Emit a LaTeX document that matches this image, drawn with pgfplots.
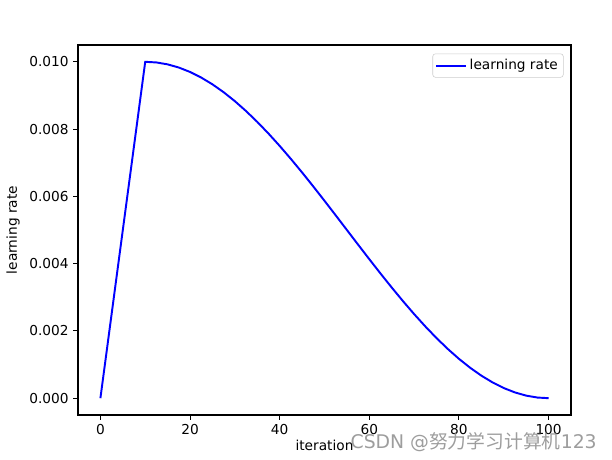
\documentclass[border=0pt]{standalone}
\usepackage{fontspec}
\setmainfont{DejaVu Sans}
\newfontfamily\cjk{Noto Sans CJK SC}
\usepackage{pgfplots}
\pgfplotsset{compat=1.18}
\begin{document}
\begin{tikzpicture}
\path[use as bounding box] (-0.78in,-0.45in) rectangle (5.34in,4.15in);
\begin{axis}[
  at={(0,0)}, anchor=south west,
  scale only axis,
  width=4.93in, height=3.70in,
  xmin=-5, xmax=105,
  ymin=-0.0005, ymax=0.0105,
  xtick={0,20,40,60,80,100},
  ytick={0,0.002,0.004,0.006,0.008,0.010},
  scaled y ticks=false,
  yticklabel style={/pgf/number format/.cd,fixed,fixed zerofill,precision=3},
  /pgf/number format/assume math mode=true,
  tick align=outside,
  xtick pos=left, ytick pos=left,
  major tick length=3.3pt,
  tick style={black, line width=0.75pt},
  axis line style={line width=0.75pt},
  font=\fontsize{9.9pt}{11.5pt}\selectfont,
  xlabel={iteration}, ylabel={learning rate},
  xlabel style={yshift=3pt},
  ylabel style={yshift=0pt},
  legend style={draw=black!20, rounded corners=2pt, inner sep=2pt,
    at={(0.985,0.977)}, anchor=north east,
    font=\fontsize{9.9pt}{11.5pt}\selectfont},
  legend cell align=left,
  legend image code/.code={\draw[#1] (0cm,0cm) -- (0.75cm,0cm);},
]
\addplot[blue, line width=1.4pt] coordinates {
(0,0) (10,0.01) (12.5,0.0099810) (15,0.0099240) (17.5,0.0098296) (20,0.0096985)
(22.5,0.0095315) (25,0.0093301) (27.5,0.0090958) (30,0.0088302) (32.5,0.0085355)
(35,0.0082139) (37.5,0.0078679) (40,0.0075) (42.5,0.0071131) (45,0.0067101)
(47.5,0.0062941) (50,0.0058682) (52.5,0.0054358) (55,0.005) (57.5,0.0045642)
(60,0.0041318) (62.5,0.0037059) (65,0.0032899) (67.5,0.0028869) (70,0.0025)
(72.5,0.0021321) (75,0.0017861) (77.5,0.0014645) (80,0.0011698) (82.5,0.00090424)
(85,0.00066987) (87.5,0.00046846) (90,0.00030154) (92.5,0.00017037) (95,0.00007596)
(97.5,0.00001903) (100,0)
};
\addlegendentry{learning rate}
\end{axis}
\node[anchor=east, text=black!45, opacity=0.85, font=\fontsize{13.6pt}{15pt}\selectfont, inner sep=0pt]
  at (5.19in,-0.27in) {CSDN @{\cjk 努力学习计算机}123};
\end{tikzpicture}
\end{document}
